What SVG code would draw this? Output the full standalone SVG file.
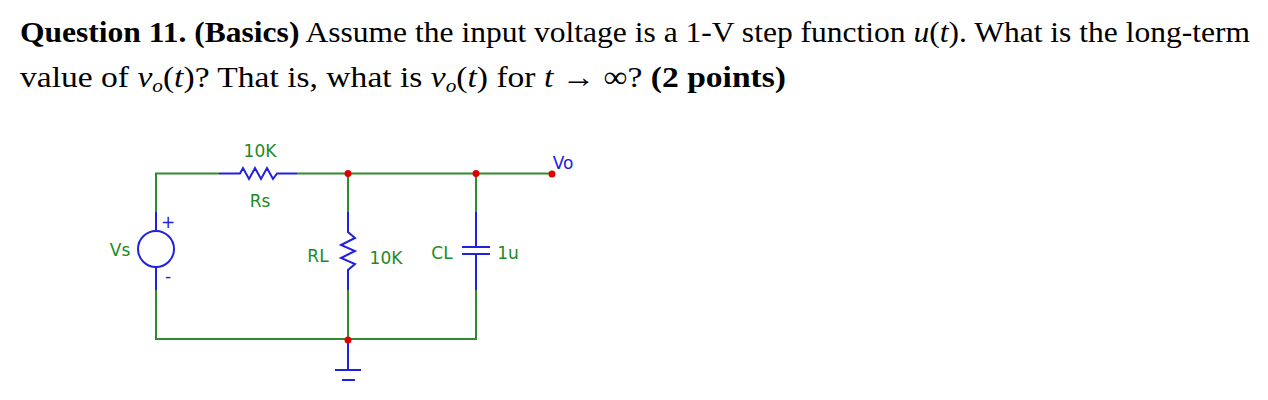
<svg xmlns="http://www.w3.org/2000/svg" width="1268" height="400" viewBox="0 0 1268 400">
<style>
.q{font-family:"Liberation Serif",serif;font-size:30px;fill:#000}
.b{font-weight:bold}
.m{font-style:italic}
.w{stroke:#2e8b2e;stroke-width:2;fill:none}
.c{stroke:#2020e0;stroke-width:2;fill:none}
.lg{font-family:"DejaVu Sans",sans-serif;font-size:17px;fill:#228b22}
.lb{font-family:"DejaVu Sans",sans-serif;font-size:17px;fill:#2020e0}
.d{fill:#e00000}
</style>
<rect width="1268" height="400" fill="#fff"/>
<text class="q" x="20" y="42" textLength="1230" lengthAdjust="spacingAndGlyphs"><tspan class="b">Question 11.  (Basics)</tspan> Assume the input voltage is a 1-V step function <tspan class="m">u</tspan>(<tspan class="m">t</tspan>). What is the long-term</text>
<text class="q" x="20" y="87" textLength="766" lengthAdjust="spacingAndGlyphs">value of <tspan class="m">v</tspan><tspan class="m" font-size="19" dy="5">o</tspan><tspan dy="-5">(</tspan><tspan class="m">t</tspan>)?  That is, what is <tspan class="m">v</tspan><tspan class="m" font-size="19" dy="5">o</tspan><tspan dy="-5">(</tspan><tspan class="m">t</tspan>) for <tspan class="m">t</tspan> → ∞? <tspan class="b">(2 points)</tspan></text>
<g id="wires">
<path class="w" d="M219 173.5H156V212M156 290V339H476V290M476 212V173.5H552M297 173.5H476M348 173.5V212M348 290V339"/>
</g>
<g id="Rs"><path class="c" d="M219 173.5H240L243 168L249 179L255 168L261 179L267 168L273 179L277 173.5H297"/>
<text class="lg" x="260" y="157" text-anchor="middle">10K</text><text class="lg" x="260" y="207" text-anchor="middle">Rs</text></g>
<g id="Vs"><path class="c" d="M156 212V231M156 267V290"/><circle class="c" cx="156" cy="249" r="18"/>
<text class="lg" x="120" y="256" text-anchor="middle">Vs</text>
<text class="lb" x="168" y="228" text-anchor="middle" font-size="13">+</text><text class="lb" x="168" y="282" text-anchor="middle" font-size="13">-</text></g>
<g id="RL"><path class="c" d="M348 212V232L355 238L341 245L355 251L341 258L355 264L348 270V290"/>
<text class="lg" x="318" y="262" text-anchor="middle">RL</text><text class="lg" x="386" y="264" text-anchor="middle">10K</text></g>
<g id="CL"><path class="c" d="M476 212V247M476 254V290M462 247H490M462 254H490"/>
<text class="lg" x="442" y="259" text-anchor="middle">CL</text><text class="lg" x="508" y="259" text-anchor="middle">1u</text></g>
<g id="gnd"><path class="c" d="M348 339V370M335 370H361M342 380H355"/></g>
<g id="Vo"><text class="lb" x="563" y="169" text-anchor="middle">Vo</text></g>
<g id="dots"><circle class="d" cx="348" cy="173.5" r="3.5"/><circle class="d" cx="476" cy="173.5" r="3.5"/><circle class="d" cx="552" cy="174" r="3.5"/><circle class="d" cx="348" cy="340" r="3.5"/></g>
</svg>
